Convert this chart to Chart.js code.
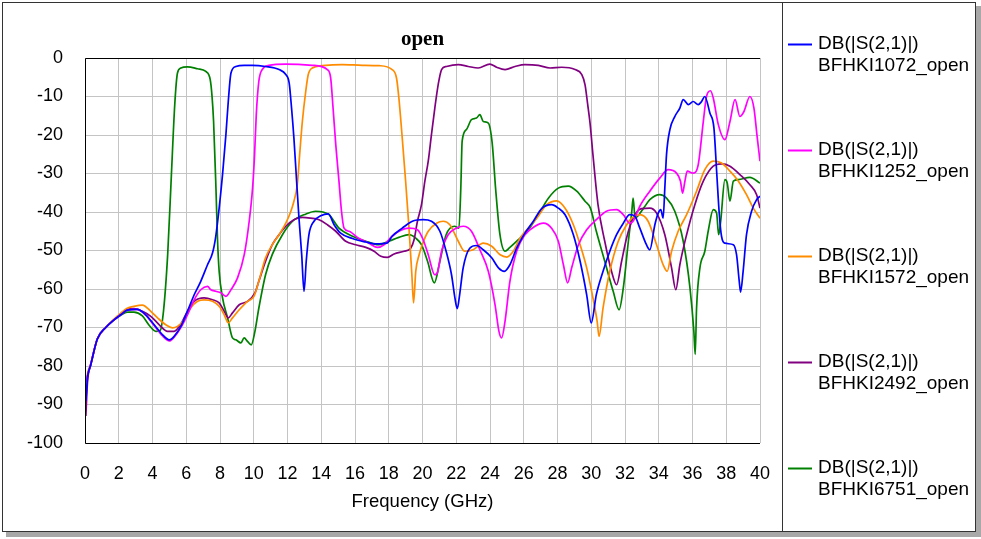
<!DOCTYPE html>
<html>
<head>
<meta charset="utf-8">
<title>open</title>
<script src="https://cdn.jsdelivr.net/npm/chart.js"></script>
<style>
  html, body { margin: 0; padding: 0; background: #fff; }
  #wrap { position: relative; width: 981px; height: 539px; }
</style>
</head>
<body>
<div id="wrap"><canvas id="sparamChart" width="981" height="539"></canvas></div>
<script>
// titles / legend text
var chartTitle = 'open';
var xTitle = 'Frequency (GHz)';
var measure = 'DB(|S(2,1)|)';
var names = ['BFHKI1072_open', 'BFHKI1252_open', 'BFHKI1572_open', 'BFHKI2492_open', 'BFHKI6751_open'];
var colors = ['#0000ff', '#ff00ff', '#ff8c00', '#800080', '#008000'];

// BFHKI1072
var f1072 = [0.05,0.15,0.34,0.73,1.23,1.72,2.12,2.5,3.1,3.6,4.1,4.6,5.0,5.28,5.68,6.07,6.47,6.86,7.26,7.56,7.75,7.95,8.15,8.35,8.49,8.65,8.94,9.44,9.91,10.7,11.5,11.9,12.1,12.24,12.38,12.54,12.68,12.84,12.98,13.11,13.27,13.57,13.97,14.42,14.76,15.15,15.85,16.64,17.23,17.9,18.2,18.8,19.4,20.04,20.53,21.03,21.4,21.72,21.92,22.06,22.2,22.41,22.8,23.2,23.6,24.1,24.5,24.85,25.18,25.58,26.07,26.57,27.06,27.65,28.05,28.45,28.94,29.34,29.73,30.0,30.3,30.7,31.1,31.5,31.9,32.28,32.58,32.88,33.27,33.47,33.77,33.97,34.12,34.26,34.36,34.46,34.66,34.95,35.25,35.45,35.75,36.04,36.34,36.54,36.73,37.03,37.27,37.43,37.59,37.72,37.92,38.42,38.61,38.77,38.85,39.0,39.2,39.5,39.8,40];
var s1072 = [-89,-83,-79.7,-73,-70,-68,-66.7,-65.5,-65.3,-66.7,-69.3,-71.9,-73.2,-72.3,-69.7,-65.8,-61.5,-58,-53.7,-50.6,-46.3,-39,-30.3,-19.9,-11.3,-3.9,-2.2,-1.9,-1.9,-2.2,-3,-4.3,-6.5,-13,-20.8,-32,-41.6,-51,-60.6,-52.8,-45.9,-42.4,-41,-40.5,-43.3,-45.5,-46.9,-47.8,-48.3,-48.1,-46.3,-44.2,-42.4,-42,-42.4,-45,-50.2,-56.3,-62.3,-65.1,-61.5,-54.5,-49.4,-48.7,-49.8,-51.9,-54.5,-55.4,-53.7,-49.4,-45.5,-42.4,-39.1,-38.1,-39,-40.7,-45.9,-52.8,-61.5,-68.8,-61.5,-55.4,-50.2,-45.9,-42.9,-40.7,-41.1,-44.2,-48.5,-49.8,-43.3,-40.3,-39.4,-41.6,-33.8,-25.1,-18.6,-15.2,-13,-10.8,-12.1,-11.3,-12.1,-11.3,-10,-14.3,-18.2,-29.4,-40.7,-46.3,-48.1,-48.5,-51.1,-58,-60.8,-55.4,-45.9,-39.8,-36.8,-35.9];

// BFHKI1252
var f1252 = [0.05,0.15,0.34,0.73,1.23,1.72,2.12,2.5,3.1,3.6,4.1,4.6,5.0,5.28,5.68,6.07,6.47,6.86,7.26,7.46,7.75,8.05,8.35,8.65,9.04,9.44,9.73,9.93,10.05,10.15,10.3,10.5,10.9,11.9,13.47,14.36,14.56,14.7,14.86,15.05,15.2,15.35,15.65,16.24,16.83,17.33,17.72,18.2,18.6,19.2,19.7,20.04,20.34,20.73,20.9,21.13,21.52,22.0,22.41,22.9,23.4,23.9,24.3,24.53,24.69,24.89,25.18,25.58,26.07,26.67,27.16,27.65,28.05,28.35,28.6,28.84,29.24,29.73,30.3,30.9,31.5,31.9,32.28,32.48,32.88,33.47,34.06,34.56,35.05,35.29,35.41,35.55,35.69,36.04,36.34,36.64,36.83,37.07,37.23,37.53,37.92,38.22,38.52,38.81,39.05,39.4,39.64,39.84,40];
var s1252 = [-84,-82.5,-79.5,-73,-70,-68,-66.7,-65.5,-65.3,-66.8,-69.5,-72.2,-73.5,-72.5,-70,-66.7,-62.8,-60.2,-59.3,-60.2,-60.6,-61,-61.9,-60.2,-57.1,-51,-42.4,-33.8,-25,-14.7,-6.1,-3,-1.9,-1.6,-1.9,-3,-5.2,-13,-22.5,-32,-39.8,-44.2,-45,-46.9,-48.1,-49.2,-48.5,-46.3,-45,-44.2,-44.6,-47.2,-51.1,-56.3,-55.5,-50.2,-45.9,-44.2,-43.7,-45,-49.8,-55.4,-64.1,-71,-72.7,-68.4,-58,-50.2,-45.9,-43.7,-42.9,-44.2,-47.6,-53.7,-58.4,-54.5,-48.5,-44.6,-42,-39.8,-39.4,-40.7,-42.9,-42.4,-38.5,-34.6,-31.2,-29,-29.9,-32,-35.1,-32,-29.4,-29.9,-27.7,-16.5,-10,-8.5,-10.4,-17.3,-21.2,-16.5,-10.8,-15.2,-13.9,-10,-13,-20.8,-26.8];

// BFHKI1572
var f1572 = [0.05,0.15,0.34,0.73,1.23,1.72,2.12,2.5,2.9,3.4,3.9,4.3,4.79,5.18,5.48,5.88,6.27,6.67,7.06,7.56,7.95,8.25,8.49,8.74,9.14,9.63,10.0,10.3,10.7,11.1,11.5,11.9,12.2,12.38,12.58,12.72,12.88,13.08,13.23,13.47,14.06,15.25,16.44,17.43,18.2,18.46,18.6,18.8,19.0,19.2,19.37,19.47,19.6,19.8,20.0,20.34,20.83,21.23,21.62,22.12,22.5,23.0,23.6,24.1,24.6,25.0,25.38,25.78,26.27,26.77,27.36,27.95,28.45,28.94,29.34,29.73,30.1,30.35,30.46,30.7,31.1,31.6,32.1,32.4,32.88,33.37,33.87,34.26,34.5,34.76,35.15,35.65,36.24,36.73,37.23,37.72,38.22,38.72,39.2,39.6,40];
var s1572 = [-85.5,-82,-79.5,-73,-70,-67.8,-66.3,-65,-64.5,-64.2,-65.8,-67.5,-69.3,-70.1,-69.7,-68,-64.9,-63.2,-62.8,-63.2,-64.5,-66.7,-68.8,-67.5,-65.4,-63.2,-62,-58,-51.9,-48.5,-45.9,-42.9,-39.8,-37.2,-32.9,-25.1,-16.5,-8.7,-4.3,-2.6,-2,-1.7,-1.9,-2,-3,-5.2,-10.4,-20.8,-32,-44.2,-56.3,-63.6,-55.4,-51.1,-48.3,-45,-42.9,-42.4,-43.3,-47.6,-50.2,-49.8,-48.1,-48.9,-51.1,-51.7,-50.2,-46.8,-44.2,-41.6,-38.1,-37.1,-39,-43.3,-48.5,-54.5,-62.3,-68.4,-72.3,-64.9,-55.4,-47.6,-43.3,-41.6,-40.7,-42.4,-48.5,-53.7,-55.4,-50.2,-45,-40.7,-34.6,-29,-26.8,-27.3,-29.4,-32,-35.5,-39,-41.6];

// BFHKI2492
var f2492 = [0.05,0.15,0.34,0.73,1.23,1.72,2.12,2.5,2.9,3.4,3.9,4.4,4.89,5.28,5.68,6.07,6.47,7.06,7.56,7.95,8.25,8.49,8.74,9.14,9.63,10.07,10.3,10.7,11.1,11.5,11.9,12.38,12.88,13.37,13.87,14.36,14.86,15.45,16.04,16.64,17.13,17.53,17.92,18.32,18.91,19.3,19.5,19.7,19.94,20.14,20.34,20.53,20.73,20.93,21.13,21.42,22.12,22.71,23.3,23.99,24.39,24.89,25.48,26.07,26.86,27.56,28.25,29.04,29.44,29.63,29.79,29.93,30.1,30.4,30.8,31.2,31.5,31.8,32.09,32.48,32.98,33.47,33.87,34.36,34.76,35.01,35.25,35.65,36.14,36.64,37.23,37.72,38.22,38.81,39.4,39.8,40];
var s2492 = [-93,-84,-79.7,-73,-70,-68,-66.5,-65.3,-65.1,-65.8,-67.1,-69.3,-71,-71,-69.1,-65.8,-63.2,-62.3,-62.8,-63.6,-65.8,-67.5,-66.2,-64.1,-63.2,-61,-58,-52.8,-48.5,-45.9,-43.7,-42,-41.4,-41.6,-42,-43.3,-45,-47.6,-48.5,-49.2,-50.2,-51.5,-51.8,-50.9,-50.2,-49.4,-47.2,-42.4,-38.1,-32,-26.8,-19.9,-13,-6.9,-3,-2.2,-1.7,-2.2,-2.6,-1.6,-2.4,-3,-2.2,-1.7,-1.9,-2.6,-2.4,-3,-4.3,-6.9,-12.1,-17,-25.1,-38.1,-47.6,-55.4,-58.9,-52.8,-46.8,-41.6,-39.1,-39,-40.3,-45.9,-54.5,-60.2,-53.7,-45.9,-38.1,-32,-28.1,-27.5,-28.1,-30.3,-32.9,-35.5,-39];

// BFHKI6751
var f6751 = [0.05,0.15,0.34,0.73,1.23,1.72,2.12,2.5,2.9,3.4,3.8,4.2,4.45,4.65,4.9,5.12,5.32,5.48,5.68,6.07,6.67,7.16,7.42,7.52,7.62,7.76,7.85,7.95,8.15,8.45,8.74,8.94,9.24,9.43,9.63,9.85,10.07,10.3,10.7,11.1,11.7,12.3,13.1,13.67,14.1,14.46,15.05,15.85,16.64,17.4,18.0,18.6,19.2,19.6,19.94,20.3,20.7,21.03,21.4,21.9,22.16,22.27,22.35,22.6,22.9,23.2,23.4,23.6,23.9,24.13,24.33,24.59,24.89,25.18,25.68,26.27,26.86,27.46,28.05,28.64,29.14,29.63,29.95,30.3,30.8,31.3,31.65,31.9,32.2,32.4,32.48,32.6,33.1,33.47,34.06,34.46,34.95,35.45,35.85,36.08,36.16,36.24,36.44,36.73,36.93,37.23,37.43,37.55,37.67,37.92,38.06,38.22,38.42,38.72,39.4,40];
var s6751 = [-85,-82.5,-79.7,-73,-70,-68,-66.8,-66,-66,-67,-69.4,-71,-70.8,-65.8,-51,-30.3,-12,-3.9,-2.6,-2.3,-2.8,-3.5,-5.6,-9.5,-16.5,-33.8,-46.8,-55.4,-62.3,-67.5,-72.7,-73.2,-74,-72.7,-73.6,-74.5,-71,-65,-56.3,-51,-45.9,-42.4,-40.5,-39.8,-40,-40.7,-44.2,-46.3,-47.6,-48.5,-47.6,-46.6,-45.9,-46.8,-48.5,-52.8,-58.4,-52.8,-45.9,-43.7,-44.2,-33.8,-21.6,-18.6,-16,-15.6,-14.7,-16.5,-16.9,-22.1,-33.8,-45.9,-50.2,-49.2,-47.2,-44.6,-40.7,-36.4,-33.8,-33.3,-34.6,-37.2,-39,-45,-52.8,-60.6,-65.4,-59.7,-47.6,-40,-36.4,-41.5,-39,-36.8,-35.5,-36.4,-39.8,-47.6,-59.7,-71,-77,-65,-54.5,-50.2,-45,-39.4,-40.3,-45.9,-42.4,-31.6,-32.5,-37.2,-32,-31.6,-31,-32.5];

var freqs = [f1072, f1252, f1572, f2492, f6751];
var values = [s1072, s1252, s1572, s2492, s6751];

var tickFont = { family: '"Liberation Sans", Arial, sans-serif', size: 18 };

var datasets = names.map(function (n, i) {
    return {
        label: measure + ' ' + n,
        data: freqs[i].map(function (f, k) { return { x: f, y: values[i][k] }; }),
        borderColor: colors[i],
        backgroundColor: colors[i],
        borderWidth: 1.7,
        pointRadius: 0,
        fill: false,
        cubicInterpolationMode: 'monotone'
    };
});

// frame, title, plot border and legend box
var decor = {
    id: 'decor',
    beforeDraw: function (chart) {
        var c = chart.ctx;
        c.save();
        c.fillStyle = '#a8a8a8';
        c.fillRect(6, 6, 975, 531);
        c.fillStyle = '#ffffff';
        c.fillRect(2, 2, 974, 530);
        c.strokeStyle = '#333333';
        c.lineWidth = 1;
        c.strokeRect(2.5, 2.5, 973, 529);
        c.beginPath();
        c.moveTo(782.5, 2.5);
        c.lineTo(782.5, 531.5);
        c.stroke();
        c.restore();
    },
    afterDraw: function (chart) {
        var c = chart.ctx;
        var a = chart.chartArea;
        c.save();
        // plot border
        c.strokeStyle = '#000000';
        c.lineWidth = 1;
        c.beginPath();
        c.moveTo(a.right, Math.round(a.top) + 0.5);
        c.lineTo(Math.round(a.left) + 0.5, Math.round(a.top) + 0.5);
        c.lineTo(Math.round(a.left) + 0.5, Math.round(a.bottom) + 0.5);
        c.lineTo(a.right, Math.round(a.bottom) + 0.5);
        c.stroke();
        // title
        c.fillStyle = '#000000';
        c.font = 'bold 21px "Liberation Serif", "Times New Roman", serif';
        c.textAlign = 'center';
        c.textBaseline = 'middle';
        c.fillText(chartTitle, (a.left + a.right) / 2, 40);
        // legend
        c.font = '19px "Liberation Sans", Arial, sans-serif';
        c.textAlign = 'left';
        for (var i = 0; i < names.length; i++) {
            var y = 44 + 106 * i;
            c.strokeStyle = colors[i];
            c.lineWidth = 2;
            c.beginPath();
            c.moveTo(788, y + 0.5);
            c.lineTo(812, y + 0.5);
            c.stroke();
            c.fillText(measure, 818, y);
            c.fillText(names[i], 818, y + 22);
        }
        c.restore();
    }
};

new Chart(document.getElementById('sparamChart'), {
    type: 'line',
    data: { datasets: datasets },
    plugins: [decor],
    options: {
        responsive: false,
        animation: false,
        layout: { padding: { left: 0, right: 221, top: 58, bottom: 26 } },
        plugins: {
            legend: { display: false },
            tooltip: { enabled: false },
            title: { display: false }
        },
        scales: {
            x: {
                type: 'linear',
                min: 0,
                max: 40,
                afterFit: function (s) { s.height = 70; },
                ticks: { stepSize: 2, color: '#000', font: tickFont, padding: 20, maxRotation: 0 },
                grid: { color: '#c4c4c4', drawTicks: false },
                border: { display: false },
                title: { display: true, text: xTitle, color: '#000', font: { family: tickFont.family, size: 18.5 }, padding: { top: 0, bottom: 0 } }
            },
            y: {
                min: -100,
                max: 0,
                afterFit: function (s) { s.width = 85; },
                ticks: { stepSize: 10, color: '#000', font: tickFont, padding: 22 },
                grid: { color: '#c4c4c4', drawTicks: false },
                border: { display: false }
            }
        }
    }
});
</script>
</body>
</html>
